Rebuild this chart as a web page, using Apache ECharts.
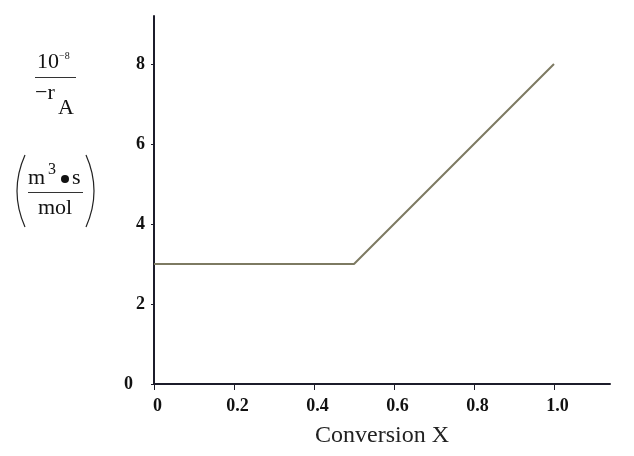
<!DOCTYPE html>
<html>
<head>
<meta charset="utf-8">
<script src="https://cdn.jsdelivr.net/npm/echarts@6/dist/echarts.min.js"></script>
<style>
html,body{margin:0;padding:0;background:#fff;}
#c{width:634px;height:456px;}
</style>
</head>
<body>
<div id="c"></div>
<script>
var conversion = [0, 0.5, 1.0];
var inverseRate = [3, 3, 8];
var xTicks = [0, 0.2, 0.4, 0.6, 0.8, 1.0];
var yTicks = [0, 2, 4, 6, 8];
var xAxisTitle = 'Conversion X';

var serif = '"Liberation Serif", "DejaVu Serif", serif';
var axisColor = '#1c1c2a';
var chart = echarts.init(document.getElementById('c'));

function txt(x, y, s, size) {
  return { type: 'text', x: x, y: y, style: { text: s, fontSize: size, fontFamily: serif, fill: '#111', align: 'left', verticalAlign: 'middle' } };
}

chart.setOption({
  backgroundColor: '#ffffff',
  animation: false,
  grid: { left: 154, right: 24, top: 16, bottom: 72 },
  xAxis: {
    type: 'value', min: 0, max: 1.14, interval: 0.2,
    name: xAxisTitle, nameLocation: 'middle', nameGap: 40,
    nameTextStyle: { fontFamily: serif, fontSize: 24, color: '#222' },
    axisLine: { show: true, lineStyle: { color: axisColor, width: 2 } },
    axisTick: { show: true, inside: false, length: 6, customValues: xTicks, lineStyle: { color: axisColor, width: 1 } },
    axisLabel: {
      customValues: xTicks, margin: 13, padding: [0, 0, 0, 7],
      fontFamily: serif, fontWeight: 'bold', fontSize: 18, color: '#111',
      formatter: function (v) { return v === 0 ? '0' : v.toFixed(1); }
    },
    splitLine: { show: false }
  },
  yAxis: {
    type: 'value', min: 0, max: 9.2, interval: 2,
    axisLine: { show: true, lineStyle: { color: axisColor, width: 2 } },
    axisTick: { show: true, length: 3, customValues: yTicks, lineStyle: { color: axisColor, width: 1 } },
    axisLabel: {
      customValues: yTicks, margin: 9,
      fontFamily: serif, fontWeight: 'bold', fontSize: 18, color: '#111',
      formatter: function (v) { return v === 0 ? '{z|0}' : String(v); },
      rich: { z: { fontFamily: serif, fontWeight: 'bold', fontSize: 18, color: '#111', padding: [0, 12, 0, 0] } }
    },
    splitLine: { show: false }
  },
  series: [{
    type: 'line',
    data: conversion.map(function (x, i) { return [x, inverseRate[i]]; }),
    showSymbol: false,
    lineStyle: { color: '#7d7a62', width: 2 },
    itemStyle: { color: '#7d7a62' }
  }],
  graphic: [
    txt(37, 62, '10', 22),
    txt(59, 56, '\u22128', 10),
    { type: 'line', shape: { x1: 35, y1: 77.5, x2: 76, y2: 77.5 }, style: { stroke: '#333', lineWidth: 1 } },
    txt(35, 93, '\u2212r', 22),
    txt(58, 108, 'A', 22),
    { type: 'bezierCurve', shape: { x1: 25, y1: 155, x2: 25, y2: 227, cpx1: 9, cpy1: 191 }, style: { stroke: '#222', lineWidth: 1.2, fill: null } },
    { type: 'bezierCurve', shape: { x1: 86, y1: 155, x2: 86, y2: 227, cpx1: 102, cpy1: 191 }, style: { stroke: '#222', lineWidth: 1.2, fill: null } },
    txt(28, 178, 'm', 22),
    txt(48, 170, '3', 16),
    { type: 'circle', shape: { cx: 65, cy: 179, r: 4 }, style: { fill: '#111' } },
    txt(72, 178, 's', 22),
    { type: 'line', shape: { x1: 28, y1: 192.5, x2: 83, y2: 192.5 }, style: { stroke: '#333', lineWidth: 1 } },
    txt(38, 208, 'mol', 22)
  ]
});
</script>
</body>
</html>
